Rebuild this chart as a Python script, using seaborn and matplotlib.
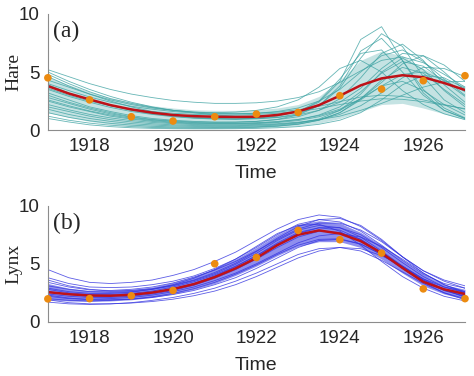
import matplotlib
import matplotlib.pyplot as plt
import numpy as np
import pandas as pd
import seaborn as sns

matplotlib.use('Agg')

# time grid (half years) and observed data
t = [1917 + 0.5 * i for i in range(21)]
years = list(range(1917, 1928))
hare_obs = [4.5, 2.6, 1.15, 0.78, 1.15, 1.38, 1.52, 2.96, 3.53, 4.25, 4.68]
lynx_obs = [1.98, 2.0, 2.24, 2.7, 5.0, 5.54, 7.87, 7.07, 5.92, 2.84, 2.0]

# posterior mean curves
hare_mean = [3.79, 3.15, 2.64, 2.15, 1.78, 1.5, 1.3, 1.2, 1.15, 1.13, 1.15,
             1.3, 1.6, 2.15, 2.96, 3.85, 4.45, 4.72, 4.55, 4.05, 3.45]
lynx_mean = [2.56, 2.38, 2.27, 2.25, 2.33, 2.52, 2.82, 3.25, 3.85, 4.6, 5.5,
             6.6, 7.5, 7.87, 7.6, 6.95, 5.92, 4.65, 3.45, 2.8, 2.4]

# dense core of the posterior draws
hare_core_lo = [1.5, 1.1, 0.75, 0.5, 0.35, 0.25, 0.2, 0.18, 0.17, 0.18, 0.2,
                0.26, 0.38, 0.6, 1.0, 1.6, 2.2, 2.3, 1.9, 1.4, 0.9]
hare_core_hi = [4.6, 3.9, 3.3, 2.8, 2.4, 2.1, 1.9, 1.75, 1.7, 1.7, 1.75,
                1.9, 2.2, 2.9, 4.3, 6.0, 6.8, 6.4, 5.3, 4.4, 3.8]
lynx_core_lo = [1.9, 1.8, 1.75, 1.8, 1.9, 2.1, 2.4, 2.8, 3.3, 4.0, 4.8,
                5.7, 6.5, 6.9, 6.9, 6.4, 5.4, 4.2, 3.1, 2.4, 1.95]
lynx_core_hi = [3.3, 2.9, 2.7, 2.7, 2.8, 3.0, 3.4, 3.9, 4.6, 5.4, 6.4,
                7.5, 8.4, 8.7, 8.5, 7.7, 6.6, 5.3, 4.1, 3.2, 2.8]

# individual posterior draws
hare_draws = [
    [5.0, 4.2, 3.5, 2.9, 2.4, 2.0, 1.7, 1.5, 1.3, 1.2, 1.2, 1.3, 1.6, 2.4, 4.2, 7.8, 8.9, 6.0, 3.2, 1.7, 1.0],
    [4.6, 3.8, 3.1, 2.5, 2.0, 1.6, 1.3, 1.1, 1.0, 0.95, 1.0, 1.1, 1.4, 2.1, 3.6, 6.2, 8.3, 7.2, 4.6, 2.6, 1.5],
    [3.2, 2.6, 2.0, 1.6, 1.25, 1.0, 0.85, 0.75, 0.7, 0.7, 0.75, 0.9, 1.15, 1.7, 2.7, 4.5, 6.6, 7.4, 6.0, 3.9, 2.4],
    [2.5, 2.0, 1.6, 1.2, 0.95, 0.75, 0.62, 0.55, 0.52, 0.52, 0.56, 0.65, 0.82, 1.15, 1.7, 2.7, 4.1, 5.7, 6.4, 5.6, 4.2],
    [2.0, 1.6, 1.2, 0.9, 0.7, 0.55, 0.45, 0.4, 0.38, 0.38, 0.42, 0.5, 0.64, 0.9, 1.35, 2.1, 3.2, 4.5, 5.4, 5.3, 4.6],
    [4.3, 3.7, 3.1, 2.6, 2.2, 1.9, 1.7, 1.55, 1.45, 1.4, 1.45, 1.55, 1.75, 2.05, 2.45, 2.85, 3.0, 2.9, 2.6, 2.2, 1.8],
    [3.6, 3.0, 2.5, 2.1, 1.8, 1.6, 1.45, 1.35, 1.3, 1.3, 1.35, 1.45, 1.6, 1.85, 2.2, 2.5, 2.7, 2.65, 2.45, 2.15, 1.85],
    [5.2, 4.6, 4.0, 3.5, 3.1, 2.8, 2.55, 2.4, 2.3, 2.3, 2.35, 2.5, 2.8, 3.3, 4.1, 5.1, 6.0, 6.3, 5.8, 4.8, 3.7],
    [1.0, 0.7, 0.45, 0.3, 0.2, 0.15, 0.12, 0.11, 0.11, 0.12, 0.15, 0.2, 0.3, 0.5, 0.85, 1.5, 2.6, 3.9, 4.7, 4.5, 3.6],
    [3.9, 3.2, 2.6, 2.1, 1.7, 1.4, 1.2, 1.05, 0.98, 0.97, 1.02, 1.2, 1.6, 2.5, 4.4, 6.6, 6.9, 5.0, 3.0, 1.7, 1.0],
    [3.0, 2.4, 1.9, 1.5, 1.15, 0.92, 0.78, 0.7, 0.66, 0.67, 0.75, 0.92, 1.3, 2.1, 3.8, 6.8, 7.9, 6.0, 3.5, 1.9, 1.05],
    [4.8, 4.0, 3.3, 2.7, 2.3, 1.95, 1.7, 1.55, 1.5, 1.55, 1.7, 2.0, 2.6, 3.7, 5.3, 6.0, 5.0, 3.4, 2.2, 1.4, 0.9],
    [2.8, 2.3, 1.8, 1.4, 1.1, 0.88, 0.74, 0.65, 0.6, 0.6, 0.64, 0.74, 0.92, 1.25, 1.8, 2.7, 3.8, 4.8, 5.0, 4.3, 3.3],
    [3.5, 2.9, 2.4, 1.95, 1.6, 1.35, 1.15, 1.02, 0.95, 0.93, 0.97, 1.08, 1.3, 1.7, 2.4, 3.6, 5.3, 6.6, 6.4, 5.0, 3.4],
    [1.5, 1.1, 0.8, 0.58, 0.43, 0.33, 0.27, 0.24, 0.23, 0.24, 0.28, 0.36, 0.52, 0.85, 1.5, 2.7, 4.3, 5.4, 4.9, 3.5, 2.2],
    [2.2, 1.75, 1.35, 1.05, 0.82, 0.66, 0.55, 0.48, 0.45, 0.45, 0.48, 0.55, 0.68, 0.9, 1.2, 1.7, 2.3, 3.0, 3.7, 4.15, 4.2],
    [1.2, 0.85, 0.6, 0.42, 0.3, 0.23, 0.19, 0.17, 0.17, 0.19, 0.24, 0.33, 0.5, 0.85, 1.5, 2.6, 3.8, 4.2, 3.4, 2.2, 1.3],
    [1.8, 1.35, 1.0, 0.75, 0.56, 0.44, 0.36, 0.32, 0.3, 0.31, 0.35, 0.43, 0.6, 0.95, 1.7, 3.1, 5.0, 6.2, 5.2, 3.4, 2.0],
    [4.0, 3.4, 2.85, 2.4, 2.05, 1.8, 1.6, 1.47, 1.4, 1.4, 1.45, 1.6, 1.9, 2.5, 3.5, 5.0, 6.4, 6.9, 5.9, 4.4, 3.0],
    [2.6, 2.1, 1.65, 1.3, 1.02, 0.82, 0.68, 0.6, 0.56, 0.56, 0.6, 0.7, 0.9, 1.3, 2.0, 3.3, 4.9, 5.9, 5.5, 4.2, 2.9],
]
lynx_draws = [
    [4.5, 3.8, 3.4, 3.3, 3.4, 3.6, 4.0, 4.5, 5.2, 6.0, 7.0, 8.0, 8.8, 9.2, 9.0, 8.2, 7.0, 5.6, 4.4, 3.6, 3.1],
    [3.8, 3.3, 3.0, 2.95, 3.0, 3.2, 3.5, 3.95, 4.6, 5.4, 6.4, 7.5, 8.4, 8.8, 8.6, 7.8, 6.6, 5.3, 4.1, 3.3, 2.9],
    [3.1, 2.8, 2.6, 2.55, 2.6, 2.8, 3.1, 3.55, 4.15, 4.95, 5.9, 7.0, 7.9, 8.3, 8.1, 7.3, 6.1, 4.8, 3.7, 3.0, 2.6],
    [2.4, 2.2, 2.1, 2.1, 2.2, 2.4, 2.7, 3.15, 3.75, 4.5, 5.4, 6.4, 7.3, 7.8, 7.7, 7.1, 6.0, 4.8, 3.6, 2.8, 2.3],
    [2.0, 1.85, 1.8, 1.85, 1.95, 2.15, 2.45, 2.85, 3.4, 4.1, 4.9, 5.8, 6.6, 7.1, 7.15, 6.7, 5.8, 4.7, 3.6, 2.7, 2.2],
    [1.7, 1.55, 1.5, 1.55, 1.65, 1.85, 2.1, 2.45, 2.9, 3.5, 4.2, 5.0, 5.8, 6.3, 6.4, 6.1, 5.3, 4.3, 3.3, 2.5, 2.0],
    [1.9, 1.65, 1.55, 1.55, 1.62, 1.75, 1.95, 2.25, 2.65, 3.2, 3.9, 4.7, 5.5, 6.1, 6.4, 6.3, 5.7, 4.8, 3.7, 2.8, 2.1],
    [2.9, 2.6, 2.45, 2.45, 2.55, 2.8, 3.2, 3.75, 4.5, 5.4, 6.5, 7.6, 8.3, 8.4, 7.8, 6.6, 5.2, 3.9, 2.9, 2.2, 1.8],
    [2.6, 2.35, 2.2, 2.2, 2.3, 2.5, 2.85, 3.3, 3.95, 4.75, 5.7, 6.8, 7.7, 8.1, 7.9, 7.1, 5.9, 4.6, 3.5, 2.7, 2.2],
    [3.4, 3.0, 2.75, 2.7, 2.8, 3.0, 3.35, 3.85, 4.45, 5.2, 6.1, 7.1, 8.0, 8.5, 8.5, 7.9, 6.9, 5.6, 4.4, 3.5, 2.9],
    [2.2, 2.0, 1.95, 2.0, 2.1, 2.3, 2.6, 3.0, 3.55, 4.2, 5.0, 5.9, 6.8, 7.4, 7.6, 7.3, 6.5, 5.4, 4.2, 3.2, 2.5],
    [2.3, 2.05, 1.9, 1.9, 1.95, 2.1, 2.35, 2.7, 3.2, 3.8, 4.6, 5.5, 6.4, 7.0, 7.1, 6.7, 5.8, 4.6, 3.4, 2.5, 1.9],
    [2.8, 2.5, 2.35, 2.35, 2.45, 2.65, 3.0, 3.45, 4.05, 4.8, 5.7, 6.7, 7.6, 8.1, 8.1, 7.5, 6.4, 5.1, 3.9, 3.0, 2.5],
    [3.6, 3.1, 2.8, 2.65, 2.7, 2.85, 3.15, 3.6, 4.25, 5.05, 6.05, 7.2, 8.2, 8.8, 8.9, 8.3, 7.1, 5.6, 4.2, 3.2, 2.6],
]

SANS = 'Liberation Sans'
SERIF = 'Liberation Serif'


def draws_frame(draws):
    rows = []
    for k, d in enumerate(draws):
        for ti, v in zip(t, d):
            rows.append({'Time': ti, 'value': v, 'draw': k})
    return pd.DataFrame(rows)


def plot_panel(ax, draws, core_lo, core_hi, mean, obs, color, core_alpha, ylabel, tag):
    ax.fill_between(t, core_lo, core_hi, color=color, alpha=core_alpha, lw=0)
    sns.lineplot(data=draws_frame(draws), x='Time', y='value', units='draw', estimator=None,
                 color=color, lw=0.6, alpha=0.8, ax=ax)
    sns.lineplot(x=t, y=mean, color='#BE1218', lw=1.8, ax=ax)
    sns.scatterplot(x=years, y=obs, color='#EC8B10', s=30, edgecolor='none', ax=ax,
                    zorder=5, clip_on=False)

    ax.set_xlim(1917, 1927)
    ax.set_ylim(0, 10)
    ax.set_xticks([1918, 1920, 1922, 1924, 1926])
    ax.set_yticks([0, 5, 10])
    ax.tick_params(direction='in', length=4, width=0.8, color='#8c8c8c', labelsize=13.5, pad=6)
    for lab in ax.get_xticklabels() + ax.get_yticklabels():
        lab.set_fontfamily(SANS)
    for side in ['left', 'bottom']:
        ax.spines[side].set_color('#8c8c8c')
        ax.spines[side].set_linewidth(0.8)
    sns.despine(ax=ax)
    ax.set_xlabel('Time', fontsize=14, fontfamily=SANS, labelpad=7)
    ax.set_ylabel(ylabel, fontsize=14, fontfamily=SERIF)
    ax.yaxis.set_label_coords(-0.062, 0.5)
    ax.text(0.012, 0.94, tag, transform=ax.transAxes, ha='left', va='top',
            fontsize=17, fontfamily=SERIF)


sns.set_style('white')
fig = plt.figure(figsize=(4.74, 3.76), dpi=100)
ax1 = fig.add_axes([0.101, 0.654, 0.88, 0.309])
ax2 = fig.add_axes([0.101, 0.144, 0.88, 0.309])

plot_panel(ax1, hare_draws, hare_core_lo, hare_core_hi, hare_mean, hare_obs,
           '#3FA3A3', 0.3, 'Hare', '(a)')
plot_panel(ax2, lynx_draws, lynx_core_lo, lynx_core_hi, lynx_mean, lynx_obs,
           '#3434E0', 0.55, 'Lynx', '(b)')

fig.savefig('out.png', dpi=100)
